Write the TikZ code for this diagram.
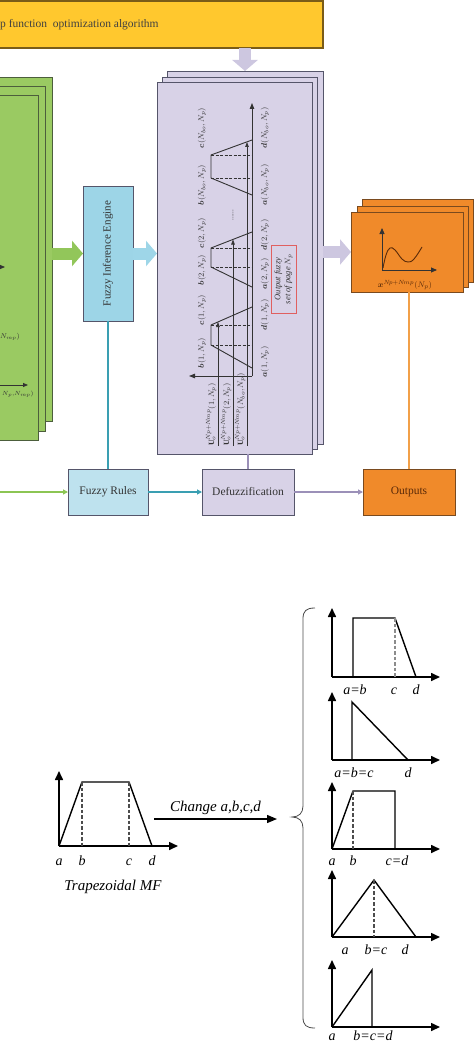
\documentclass[tikz,border=0pt]{standalone}
\usepackage{amsmath}
\usepackage{fontspec}
\setmainfont{Liberation Serif}
\usetikzlibrary{arrows.meta}

\definecolor{optyellow}{HTML}{FFC82E}
\definecolor{optbrown}{HTML}{7A5C18}
\definecolor{ingreen}{HTML}{9ACA62}
\definecolor{ingreenline}{HTML}{4C5E3C}
\definecolor{greenarrow}{HTML}{92C65A}
\definecolor{greenline}{HTML}{8CC553}
\definecolor{fieblue}{HTML}{9DD5E7}
\definecolor{ruleblue}{HTML}{BEE2EE}
\definecolor{bluearrow}{HTML}{9ED6E8}
\definecolor{tealline}{HTML}{3A9FB2}
\definecolor{lav}{HTML}{D8D2E7}
\definecolor{lavarrow}{HTML}{CDC7E0}
\definecolor{lavline}{HTML}{9B90B8}
\definecolor{outorange}{HTML}{F08A2A}
\definecolor{outbrown}{HTML}{7A4A1E}
\definecolor{outtext}{HTML}{5A2A08}
\definecolor{orangeline}{HTML}{F2A048}
\definecolor{boxgray}{HTML}{55556A}
\definecolor{redbox}{HTML}{E06060}
\definecolor{inkgray}{HTML}{333333}

\begin{document}
\begin{tikzpicture}[x=1pt,y=-1pt,>=Stealth]
 \tikzstyle{sheet} = [draw=boxgray,line width=0.8pt,inner sep=0pt,outer sep=0pt,anchor=north west]
 \tikzstyle{flowbox} = [draw=boxgray,line width=0.9pt,inner sep=0pt,outer sep=0pt,anchor=north west,font=\fontsize{11.5}{13}\selectfont,text=black!80]
 \tikzstyle{blockarrow} = [line width=12pt,-{Triangle[length=11pt,width=25pt]}]
 \tikzstyle{thinarrow} = [line width=1.1pt,-{Triangle[length=5pt,width=5pt]}]
 \tikzstyle{mflab} = [font=\fontsize{8}{9}\selectfont,rotate=90,inner sep=0pt,text=inkgray]
 \tikzstyle{mfaxis} = [line width=1.6pt,-{Triangle[length=9pt,width=8pt]}]
 \tikzstyle{mfedge} = [line width=1.4pt,line join=miter]
 \tikzstyle{mfdash} = [line width=1.1pt,black!70,dash pattern=on 3.5pt off 2pt]
 \tikzstyle{ablab} = [font=\fontsize{14}{16}\selectfont\itshape,inner sep=0pt,anchor=north,text height=10pt,text depth=3pt]

 \useasboundingbox (0,0) rectangle (474,1043);
 \clip (0,0) rectangle (474,1043);

% Optimization algorithm (cut at the left)
 \node[flowbox,fill=optyellow,draw=optbrown,line width=1.2pt,minimum width=480pt,minimum height=47pt,anchor=north east] (opt) at (323,1) {};
 \node[anchor=west,inner sep=0pt,font=\fontsize{11.5}{13}\selectfont,text=black!75] (opttext) at (0,25) {p function\ \ optimization algorithm};

% Input pages (green)
 \node[sheet,fill=ingreen,draw=ingreenline,minimum width=150pt,minimum height=344pt,anchor=north east] (in3) at (52,77) {};
 \node[sheet,fill=ingreen,draw=ingreenline,minimum width=150pt,minimum height=345pt,anchor=north east] (in2) at (45,86) {};
 \node[sheet,fill=ingreen,draw=ingreenline,minimum width=150pt,minimum height=345pt,anchor=north east] (in1) at (38,95) {};
 \coordinate (ga) at (-6,267); \coordinate (gb) at (5,267);
 \draw[line width=0.8pt,inkgray,-{Triangle[length=5pt,width=4pt]}] (ga) -- (gb);
 \node[font=\fontsize{7.5}{9}\selectfont,anchor=east,inner sep=0pt,text=inkgray] (gt1) at (20,337) {$N_{mp})$};
 \coordinate (gc) at (-6,385); \coordinate (gd) at (28,385);
 \draw[line width=0.8pt,inkgray,-{Triangle[length=5pt,width=4pt]}] (gc) -- (gd);
 \node[font=\fontsize{6.5}{8}\selectfont,anchor=west,inner sep=0pt,text=inkgray] (gt2) at (2,394) {$N_p{,}N_{mp})$};

% Output fuzzy sets (purple pages)
 \node[sheet,fill=lav,minimum width=156pt,minimum height=373pt] (inf3) at (167,71) {};
 \node[sheet,fill=lav,minimum width=155pt,minimum height=372pt] (inf2) at (162,77) {};
 \node[sheet,fill=lav,minimum width=155pt,minimum height=372pt] (inf1) at (157,82) {};

% Outputs pages (orange)
 \node[sheet,fill=outorange,draw=outbrown,minimum width=111pt,minimum height=83pt] (out3) at (362,199) {};
 \node[sheet,fill=outorange,draw=outbrown,minimum width=111pt,minimum height=81pt] (out2) at (357,206) {};
 \node[sheet,fill=outorange,draw=outbrown,minimum width=112pt,minimum height=80pt] (out1) at (351,212) {};

% Fuzzy inference engine
 \node[flowbox,fill=fieblue,minimum width=50pt,minimum height=135pt] (fie) at (83,186) {};
 \node[rotate=90,inner sep=0pt,font=\fontsize{11}{13}\selectfont,text=black!80] (fietext) at (fie.center) {Fuzzy Inference Engine};

% Block arrows
 \draw[blockarrow,draw=greenarrow] (in3.east |- fie.west) -- (fie.west);
 \draw[blockarrow,draw=bluearrow] (fie.east) -- (fie.east -| inf1.west);
 \draw[blockarrow,draw=lavarrow] (opt.south -| inf3.north) -- (inf3.north);
 \draw[blockarrow,draw=lavarrow] (inf3.east |- out1.west) -- (out1.west);

% Rotated MF plot on the purple page
 \coordinate (o) at (252,376);
 \draw[line width=0.9pt,inkgray,-{Triangle[length=6pt,width=4.5pt]}] (o) -- (252,103);
 \draw[line width=0.9pt,inkgray,-{Triangle[length=6pt,width=4.5pt]}] (o) -- (189,376);
 \foreach \a/\b/\c/\d in {368/345/325/307, 287/267/248/232, 195/178/155/140} {
   \draw[line width=0.9pt,inkgray] (252,\a) -- (211,\b) -- (211,\c) -- (252,\d);
   \draw[line width=0.7pt,inkgray,dash pattern=on 3pt off 1.5pt] (211,\b) -- (252,\b) (211,\c) -- (252,\c);
 }
 \foreach \x/\t in {218/322, 233/239.5, 247/142}
   \draw[line width=0.7pt,inkgray,-{Triangle[length=5pt,width=3.5pt]}] (\x,446) -- (\x,\t);

 \node[mflab] (c3) at (202,128) {$\boldsymbol{c}(N_{bo},N_p)$};
 \node[mflab] (b3) at (202,185) {$\boldsymbol{b}(N_{bo},N_p)$};
 \node[mflab] (d3) at (265,128) {$\boldsymbol{d}(N_{bo},N_p)$};
 \node[mflab] (a3) at (265,185) {$\boldsymbol{a}(N_{bo},N_p)$};
 \node[mflab] (c2) at (202,233) {$\boldsymbol{c}(2,N_p)$};
 \node[mflab] (b2) at (202,270) {$\boldsymbol{b}(2,N_p)$};
 \node[mflab] (d2) at (265,235) {$\boldsymbol{d}(2,N_p)$};
 \node[mflab] (a2) at (265,274) {$\boldsymbol{a}(2,N_p)$};
 \node[mflab] (c1) at (202,310) {$\boldsymbol{c}(1,N_p)$};
 \node[mflab] (b1) at (202,353) {$\boldsymbol{b}(1,N_p)$};
 \node[mflab] (d1) at (265,315) {$\boldsymbol{d}(1,N_p)$};
 \node[mflab] (a1) at (265,362) {$\boldsymbol{a}(1,N_p)$};
 \node[mflab,font=\fontsize{7}{8}\selectfont] (vdots) at (233,215) {......};
 \node[mflab,font=\fontsize{8}{9}\selectfont,anchor=south west] (u1) at (216.5,446) {$\mathbf{U}_o^{N\!p+N\!mp}(1,N_p)$};
 \node[mflab,font=\fontsize{8}{9}\selectfont,anchor=south west] (u2) at (231.5,446) {$\mathbf{U}_o^{N\!p+N\!mp}(2,N_p)$};
 \node[mflab,font=\fontsize{8}{9}\selectfont,anchor=south west] (u3) at (245.5,446) {$\mathbf{U}_o^{N\!p+N\!mp}(N_{bo},N_p)$};
 \node[draw=redbox,line width=0.7pt,rotate=90,minimum width=68pt,minimum height=25pt,inner sep=1pt,align=center,font=\fontsize{8.5}{10}\selectfont\itshape,text=inkgray] (outset) at (283.5,279) {Output fuzzy\\set of page $N_p$};

% Crisp output curve on the orange page
 \coordinate (oo) at (382,270);
 \draw[line width=0.9pt,inkgray,-{Triangle[length=6pt,width=5pt]}] (oo) -- (382,228);
 \draw[line width=0.9pt,inkgray,-{Triangle[length=6pt,width=5pt]}] (oo) -- (437,270);
 \draw[line width=0.9pt,outtext] plot[smooth,tension=0.7] coordinates {(383,268) (386,255) (390,248) (395,250) (402,259) (408,262) (414,259) (422,247)};
 \node[font=\fontsize{8}{9}\selectfont,inner sep=0pt,text=outtext] (xlab) at (405,285) {$\boldsymbol{x}^{N\!p+N\!mp}(N_p)$};

% Bottom flow
 \node[flowbox,fill=ruleblue,minimum width=80pt,minimum height=46pt] (rules) at (68,469) {Fuzzy Rules};
 \node[flowbox,fill=lav,minimum width=92pt,minimum height=46pt] (defuzz) at (202,469) {Defuzzification};
 \node[flowbox,fill=outorange,draw=outbrown,minimum width=92pt,minimum height=46pt,text=outtext] (outputs) at (363,469) {Outputs};

 \draw[line width=1.1pt,tealline] (fie.south) -- (rules.north);
 \coordinate (gin) at (-5,492);
 \draw[thinarrow,greenline] (gin) -- (rules.west);
 \draw[thinarrow,tealline] (rules.east) -- (defuzz.west);
 \draw[line width=1.1pt,lavline] (defuzz.north |- inf1.south) -- (defuzz.north);
 \draw[thinarrow,lavline] (defuzz.east) -- (outputs.west);
 \draw[line width=1.1pt,orangeline] (outputs.north |- out1.south) -- (outputs.north);

% Trapezoidal MF
 \coordinate (t0) at (59,846);
 \draw[mfaxis] (t0) -- (59,771);
 \draw[mfaxis] (t0) -- (178,846);
 \draw[mfedge] (59,846) -- (82,782) -- (129,782) -- (152,846);
 \draw[mfdash] (82,782) -- (82,846) (129,782) -- (129,846);
 \node[ablab] (ta) at (59,855) {a};
 \node[ablab] (tb) at (82,855) {b};
 \node[ablab] (tc) at (129,855) {c};
 \node[ablab] (td) at (152,855) {d};
 \node[font=\fontsize{15}{17}\selectfont\itshape,inner sep=0pt] (tname) at (113,887) {Trapezoidal MF};

 \coordinate (ch1) at (154,819); \coordinate (ch2) at (277,819);
 \draw[line width=1.3pt,-{Triangle[length=10pt,width=8pt]}] (ch1) -- node[above=4pt,inner sep=0pt,font=\fontsize{15}{17}\selectfont\itshape] (chlab) {Change a,b,c,d} (ch2);

% Brace
 \draw[line width=0.8pt,black!70] (315,608) .. controls (306,608) and (303,611) .. (303,619) -- (303,806)
   .. controls (303,813) and (299,817) .. (292,817) .. controls (299,817) and (303,821) .. (303,828)
   -- (303,1017) .. controls (303,1025) and (306,1028) .. (315,1028);

% Special cases
 % a=b
 \draw[mfaxis] (332,677) -- (332,608);
 \draw[mfaxis] (332,677) -- (440,677);
 \draw[mfedge] (353,677) -- (353,618) -- (395,618) -- (416,677);
 \draw[mfdash,black!45] (395,618) -- (395,677);
 \node[ablab] (s1a) at (355,684) {a=b};
 \node[ablab] (s1c) at (394,684) {c};
 \node[ablab] (s1d) at (416,684) {d};
 % a=b=c
 \draw[mfaxis] (332,760) -- (332,692);
 \draw[mfaxis] (332,760) -- (440,760);
 \draw[mfedge] (352,760) -- (352,702) -- (408,760);
 \node[ablab] (s2a) at (354,767) {a=b=c};
 \node[ablab] (s2d) at (408,767) {d};
 % c=d
 \draw[mfaxis] (332,849) -- (332,782);
 \draw[mfaxis] (332,849) -- (440,849);
 \draw[mfedge] (332,849) -- (353,791) -- (395,791) -- (395,849);
 \draw[mfdash] (353,791) -- (353,849);
 \node[ablab] (s3a) at (332,855) {a};
 \node[ablab] (s3b) at (353,855) {b};
 \node[ablab] (s3c) at (397,855) {c=d};
 % b=c
 \draw[mfaxis] (332,937) -- (332,870);
 \draw[mfaxis] (332,937) -- (440,937);
 \draw[mfedge] (332,937) -- (374,880) -- (416,937);
 \draw[mfdash] (374,880) -- (374,937);
 \node[ablab] (s4a) at (345,944) {a};
 \node[ablab] (s4b) at (376,944) {b=c};
 \node[ablab] (s4d) at (405,944) {d};
 % b=c=d
 \draw[mfaxis] (332,1027) -- (332,960);
 \draw[mfaxis] (332,1027) -- (440,1027);
 \draw[mfedge] (332,1027) -- (372,970) -- (372,1027);
 \node[ablab,text depth=0pt] (s5a) at (332,1030) {a};
 \node[ablab,text depth=0pt] (s5b) at (373,1030) {b=c=d};
\end{tikzpicture}
\end{document}
